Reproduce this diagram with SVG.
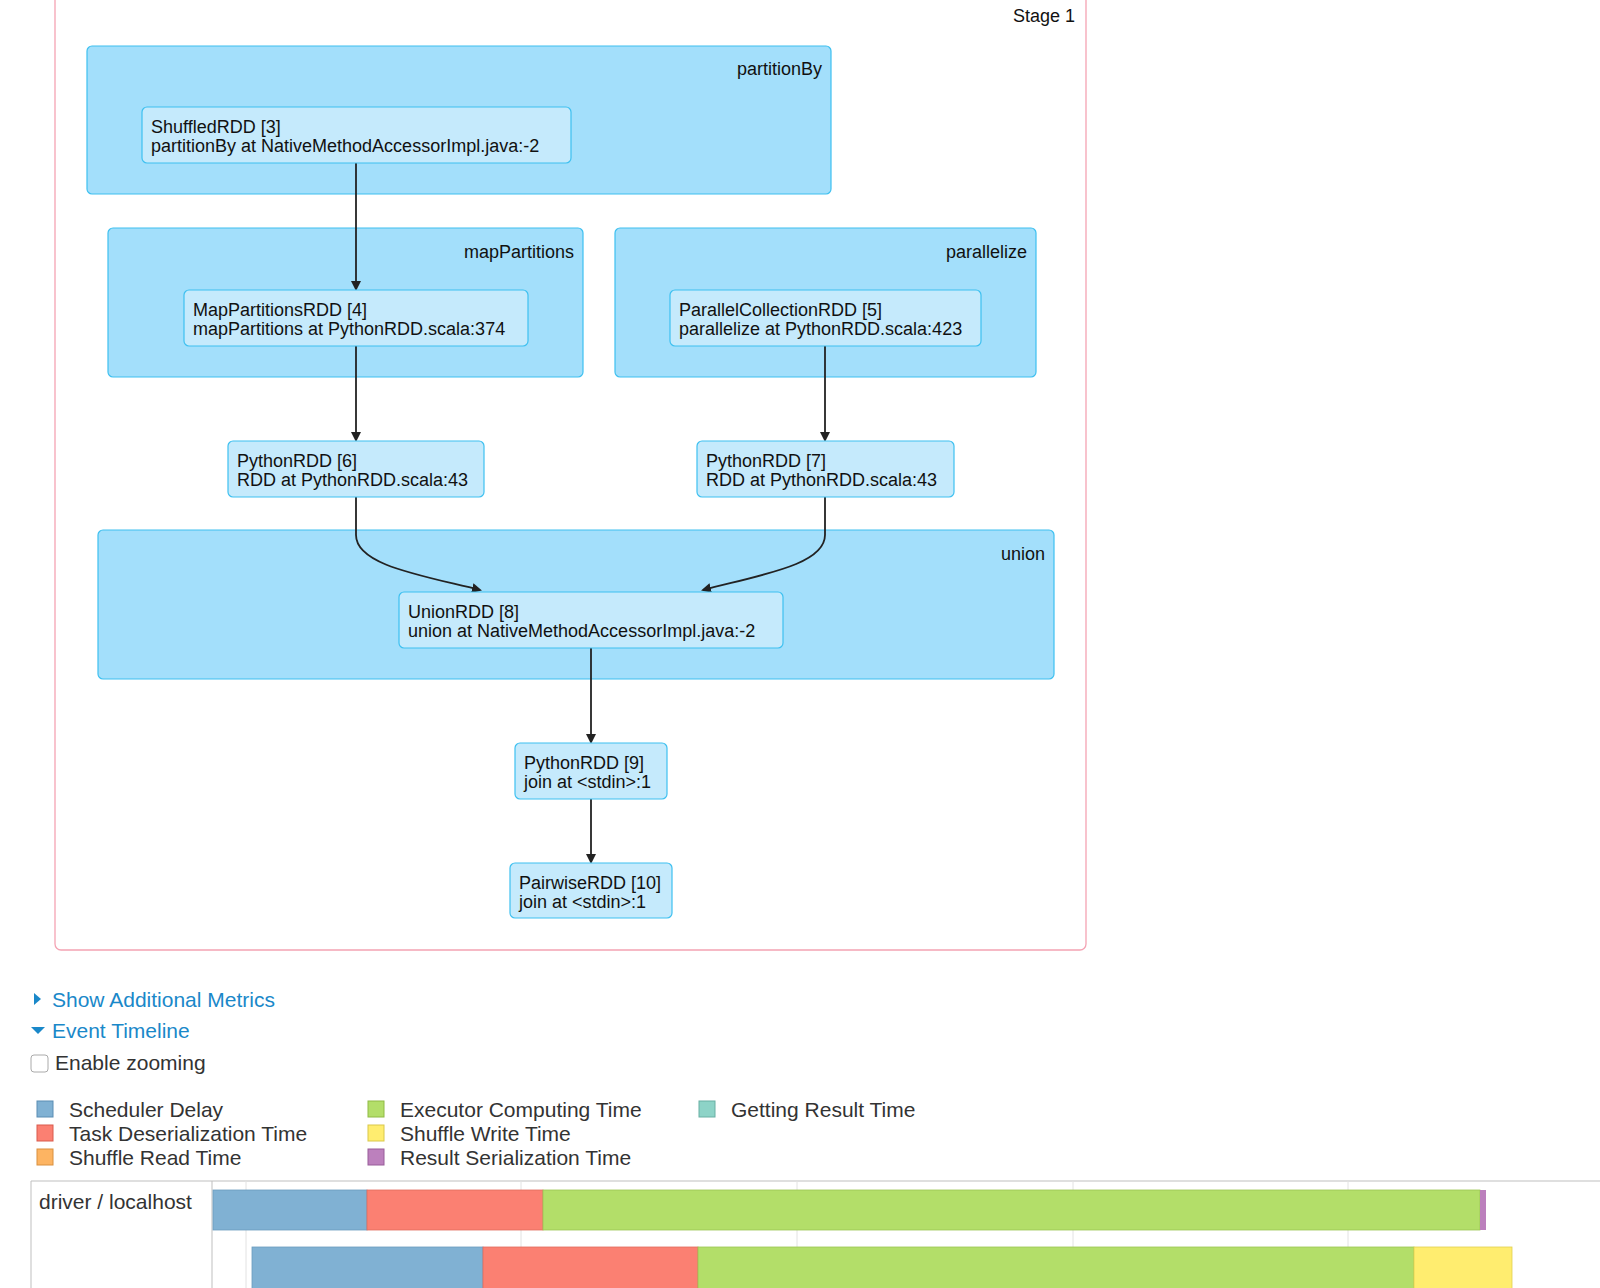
<svg xmlns="http://www.w3.org/2000/svg" width="1600" height="1288" viewBox="0 0 1600 1288">
<style>
text{font-family:"Helvetica Neue","Liberation Sans",Arial,sans-serif}
.cl{fill:#A3DFFB;stroke:#3EC0F0;stroke-width:1.2}
.nd{fill:#C5EAFC;stroke:#3EC0F0;stroke-width:1.2}
.t{font-size:18px;fill:#111}
.lbl{font-size:18px;fill:#111;text-anchor:end}
.e{fill:none;stroke:#222;stroke-width:1.8;marker-end:url(#a)}
.lk{font-size:21px;fill:#1a88c9}
.lg{font-size:21px;fill:#333}
.grid{stroke:#e2e2e2;stroke-width:1}
</style>
<defs><marker id="a" markerWidth="10" markerHeight="10" refX="8" refY="5" orient="auto" markerUnits="userSpaceOnUse"><path d="M0,0 L10,5 L0,10z" fill="#222"/></marker></defs>
<rect width="1600" height="1288" fill="#fff"/>
<g id="stage1"><rect x="55" y="-10" width="1031" height="960" rx="6" fill="#fff" stroke="#f4a3b3" stroke-width="1.3"/><text x="1075" y="22" class="lbl">Stage 1</text></g>
<g id="c-partitionBy"><rect class="cl" x="87" y="46" width="744" height="148" rx="5"/><text class="lbl" x="822" y="75">partitionBy</text></g>
<g id="c-mapPartitions"><rect class="cl" x="108" y="228" width="475" height="149" rx="5"/><text class="lbl" x="574" y="258">mapPartitions</text></g>
<g id="c-parallelize"><rect class="cl" x="615" y="228" width="421" height="149" rx="5"/><text class="lbl" x="1027" y="258">parallelize</text></g>
<g id="c-union"><rect class="cl" x="98" y="530" width="956" height="149" rx="5"/><text class="lbl" x="1045" y="560">union</text></g>
<g id="edges">
<path class="e" d="M356,163 V289"/>
<path class="e" d="M356,346 V440"/>
<path class="e" d="M825,346 V440"/>
<path class="e" d="M356,497 V535 C356,565 420,575 480,590"/>
<path class="e" d="M825,497 V535 C825,565 760,575 703,590"/>
<path class="e" d="M591,648 V742"/>
<path class="e" d="M591,799 V862"/>
</g>
<g id="n3"><rect class="nd" x="142" y="107" width="429" height="56" rx="5"/><text class="t" x="151" y="133">ShuffledRDD [3]</text><text class="t" x="151" y="152">partitionBy at NativeMethodAccessorImpl.java:-2</text></g>
<g id="n4"><rect class="nd" x="184" y="290" width="344" height="56" rx="5"/><text class="t" x="193" y="316">MapPartitionsRDD [4]</text><text class="t" x="193" y="335">mapPartitions at PythonRDD.scala:374</text></g>
<g id="n5"><rect class="nd" x="670" y="290" width="311" height="56" rx="5"/><text class="t" x="679" y="316">ParallelCollectionRDD [5]</text><text class="t" x="679" y="335">parallelize at PythonRDD.scala:423</text></g>
<g id="n6"><rect class="nd" x="228" y="441" width="256" height="56" rx="5"/><text class="t" x="237" y="467">PythonRDD [6]</text><text class="t" x="237" y="486">RDD at PythonRDD.scala:43</text></g>
<g id="n7"><rect class="nd" x="697" y="441" width="257" height="56" rx="5"/><text class="t" x="706" y="467">PythonRDD [7]</text><text class="t" x="706" y="486">RDD at PythonRDD.scala:43</text></g>
<g id="n8"><rect class="nd" x="399" y="592" width="384" height="56" rx="5"/><text class="t" x="408" y="618">UnionRDD [8]</text><text class="t" x="408" y="637">union at NativeMethodAccessorImpl.java:-2</text></g>
<g id="n9"><rect class="nd" x="515" y="743" width="152" height="56" rx="5"/><text class="t" x="524" y="769">PythonRDD [9]</text><text class="t" x="524" y="788">join at &lt;stdin&gt;:1</text></g>
<g id="n10"><rect class="nd" x="510" y="863" width="162" height="55" rx="5"/><text class="t" x="519" y="889">PairwiseRDD [10]</text><text class="t" x="519" y="908">join at &lt;stdin&gt;:1</text></g>
<g id="controls">
<path d="M34,993 L41,999 L34,1005z" fill="#1a88c9"/><text class="lk" x="52" y="1007">Show Additional Metrics</text>
<path d="M31,1027 L45,1027 L38,1034z" fill="#1a88c9"/><text class="lk" x="52" y="1038">Event Timeline</text>
<rect x="31" y="1055" width="17" height="17" rx="3" fill="#fff" stroke="#aaa"/><text class="lg" x="55" y="1070" fill="#111">Enable zooming</text>
</g>
<g id="legend">
<rect x="37" y="1101" width="16" height="16" fill="#80B1D3" stroke="#5a8db3"/><text class="lg" x="69" y="1117">Scheduler Delay</text>
<rect x="37" y="1125" width="16" height="16" fill="#FB8072" stroke="#d95a4c"/><text class="lg" x="69" y="1141">Task Deserialization Time</text>
<rect x="37" y="1149" width="16" height="16" fill="#FDB462" stroke="#d9903e"/><text class="lg" x="69" y="1165">Shuffle Read Time</text>
<rect x="368" y="1101" width="16" height="16" fill="#B3DE69" stroke="#8fba45"/><text class="lg" x="400" y="1117">Executor Computing Time</text>
<rect x="368" y="1125" width="16" height="16" fill="#FFED6F" stroke="#d9c84b"/><text class="lg" x="400" y="1141">Shuffle Write Time</text>
<rect x="368" y="1149" width="16" height="16" fill="#BC80BD" stroke="#985c99"/><text class="lg" x="400" y="1165">Result Serialization Time</text>
<rect x="699" y="1101" width="16" height="16" fill="#8DD3C7" stroke="#69afa3"/><text class="lg" x="731" y="1117">Getting Result Time</text>
</g>
<g id="timeline">
<line x1="31" y1="1181" x2="1600" y2="1181" stroke="#bfbfbf"/>
<line x1="31" y1="1181" x2="31" y2="1288" stroke="#bfbfbf"/>
<line x1="212" y1="1181" x2="212" y2="1288" stroke="#bfbfbf"/>
<line class="grid" x1="246" y1="1181" x2="246" y2="1288"/><line class="grid" x1="521" y1="1181" x2="521" y2="1288"/><line class="grid" x1="797" y1="1181" x2="797" y2="1288"/><line class="grid" x1="1073" y1="1181" x2="1073" y2="1288"/><line class="grid" x1="1348" y1="1181" x2="1348" y2="1288"/>
<text class="lg" x="39" y="1209" fill="#222">driver / localhost</text>
<rect x="213" y="1190" width="154" height="40" fill="#80B1D3" stroke="#6a9cbf" stroke-width="0.8"/>
<rect x="367" y="1190" width="176" height="40" fill="#FB8072" stroke="#e06b5e" stroke-width="0.8"/>
<rect x="543" y="1190" width="937" height="40" fill="#B3DE69" stroke="#9cc653" stroke-width="0.8"/>
<rect x="1480" y="1190" width="6" height="40" fill="#BC80BD"/>
<rect x="252" y="1247" width="231" height="45" fill="#80B1D3" stroke="#6a9cbf" stroke-width="0.8"/>
<rect x="483" y="1247" width="215" height="45" fill="#FB8072" stroke="#e06b5e" stroke-width="0.8"/>
<rect x="698" y="1247" width="716" height="45" fill="#B3DE69" stroke="#9cc653" stroke-width="0.8"/>
<rect x="1414" y="1247" width="98" height="45" fill="#FFED6F" stroke="#e0cf50" stroke-width="0.8"/>
</g>
</svg>
